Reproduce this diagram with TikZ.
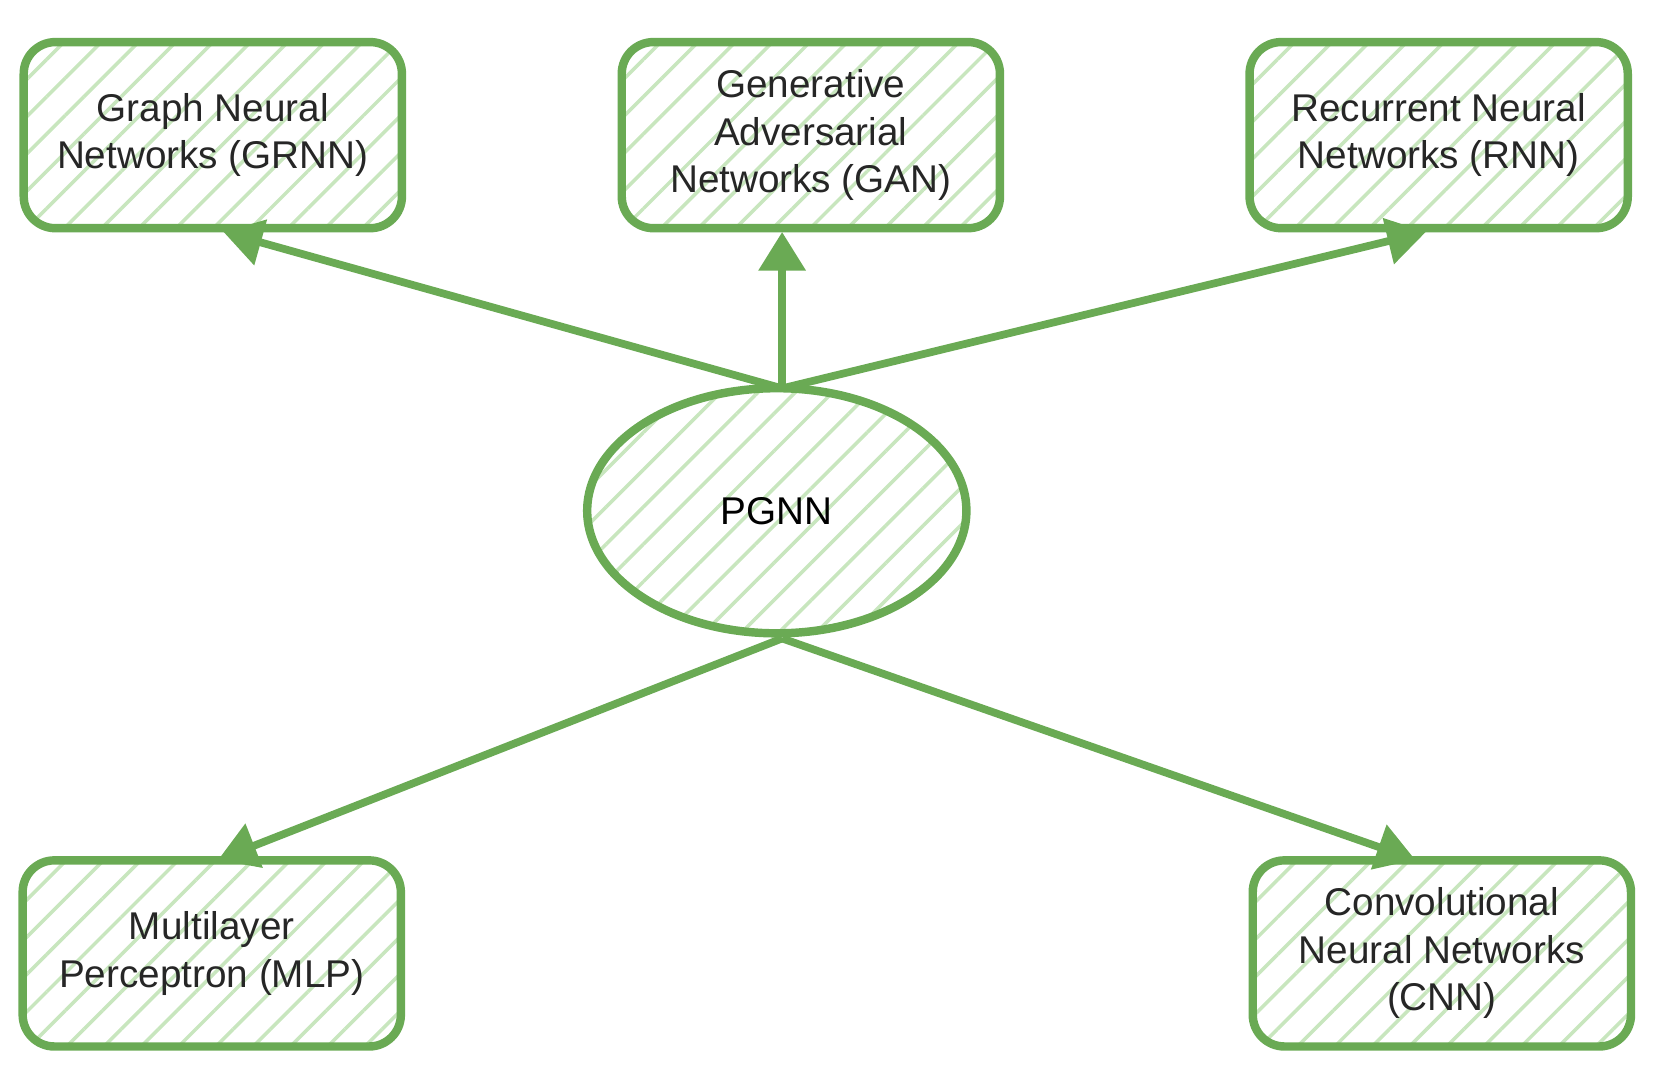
\documentclass[tikz,border=0pt]{standalone}
\usepackage{fontspec}
\setmainfont{Liberation Sans}
\usetikzlibrary{arrows.meta,patterns.meta,shapes.geometric}
\definecolor{gr}{RGB}{106,170,84}
\definecolor{lg}{RGB}{200,230,190}
\begin{document}
\begin{tikzpicture}[x=0.01064cm,y=-0.01064cm,
 box/.style={draw=gr,line width=2.4pt,rounded corners=9pt,minimum width=3.78cm,minimum height=1.86cm,align=center,font=\fontsize{11}{13.5}\selectfont,text=black!85,
   pattern={Lines[angle=45,distance=7.5pt,line width=1pt]},pattern color=lg},
 arr/.style={draw=gr,line width=2.2pt,-{Triangle[length=11pt,width=13pt]}}]
\useasboundingbox (0,0) rectangle (1560,1011);
\node[box] (grnn) at (200,127) {Graph Neural\\Networks (GRNN)};
\node[box] (gan) at (762,127) {Generative\\Adversarial\\Networks (GAN)};
\node[box] (rnn) at (1352,127) {Recurrent Neural\\Networks (RNN)};
\node[box] (mlp) at (199,896) {Multilayer\\Perceptron (MLP)};
\node[box] (cnn) at (1355,896) {Convolutional\\Neural Networks\\(CNN)};
\node[ellipse,draw=gr,line width=2.4pt,minimum width=3.79cm,minimum height=2.45cm,font=\fontsize{11}{13.5}\selectfont,
 pattern={Lines[angle=45,distance=7.5pt,line width=1pt]},pattern color=lg] (pg) at (730,480) {PGNN};
\coordinate (t) at (735,365);
\coordinate (b) at (735,600);
\draw[arr] (t) -- (210,218);
\draw[arr] (t) -- (735,218);
\draw[arr] (t) -- (1340,218);
\draw[arr] (b) -- (205,808);
\draw[arr] (b) -- (1330,808);
\end{tikzpicture}
\end{document}
